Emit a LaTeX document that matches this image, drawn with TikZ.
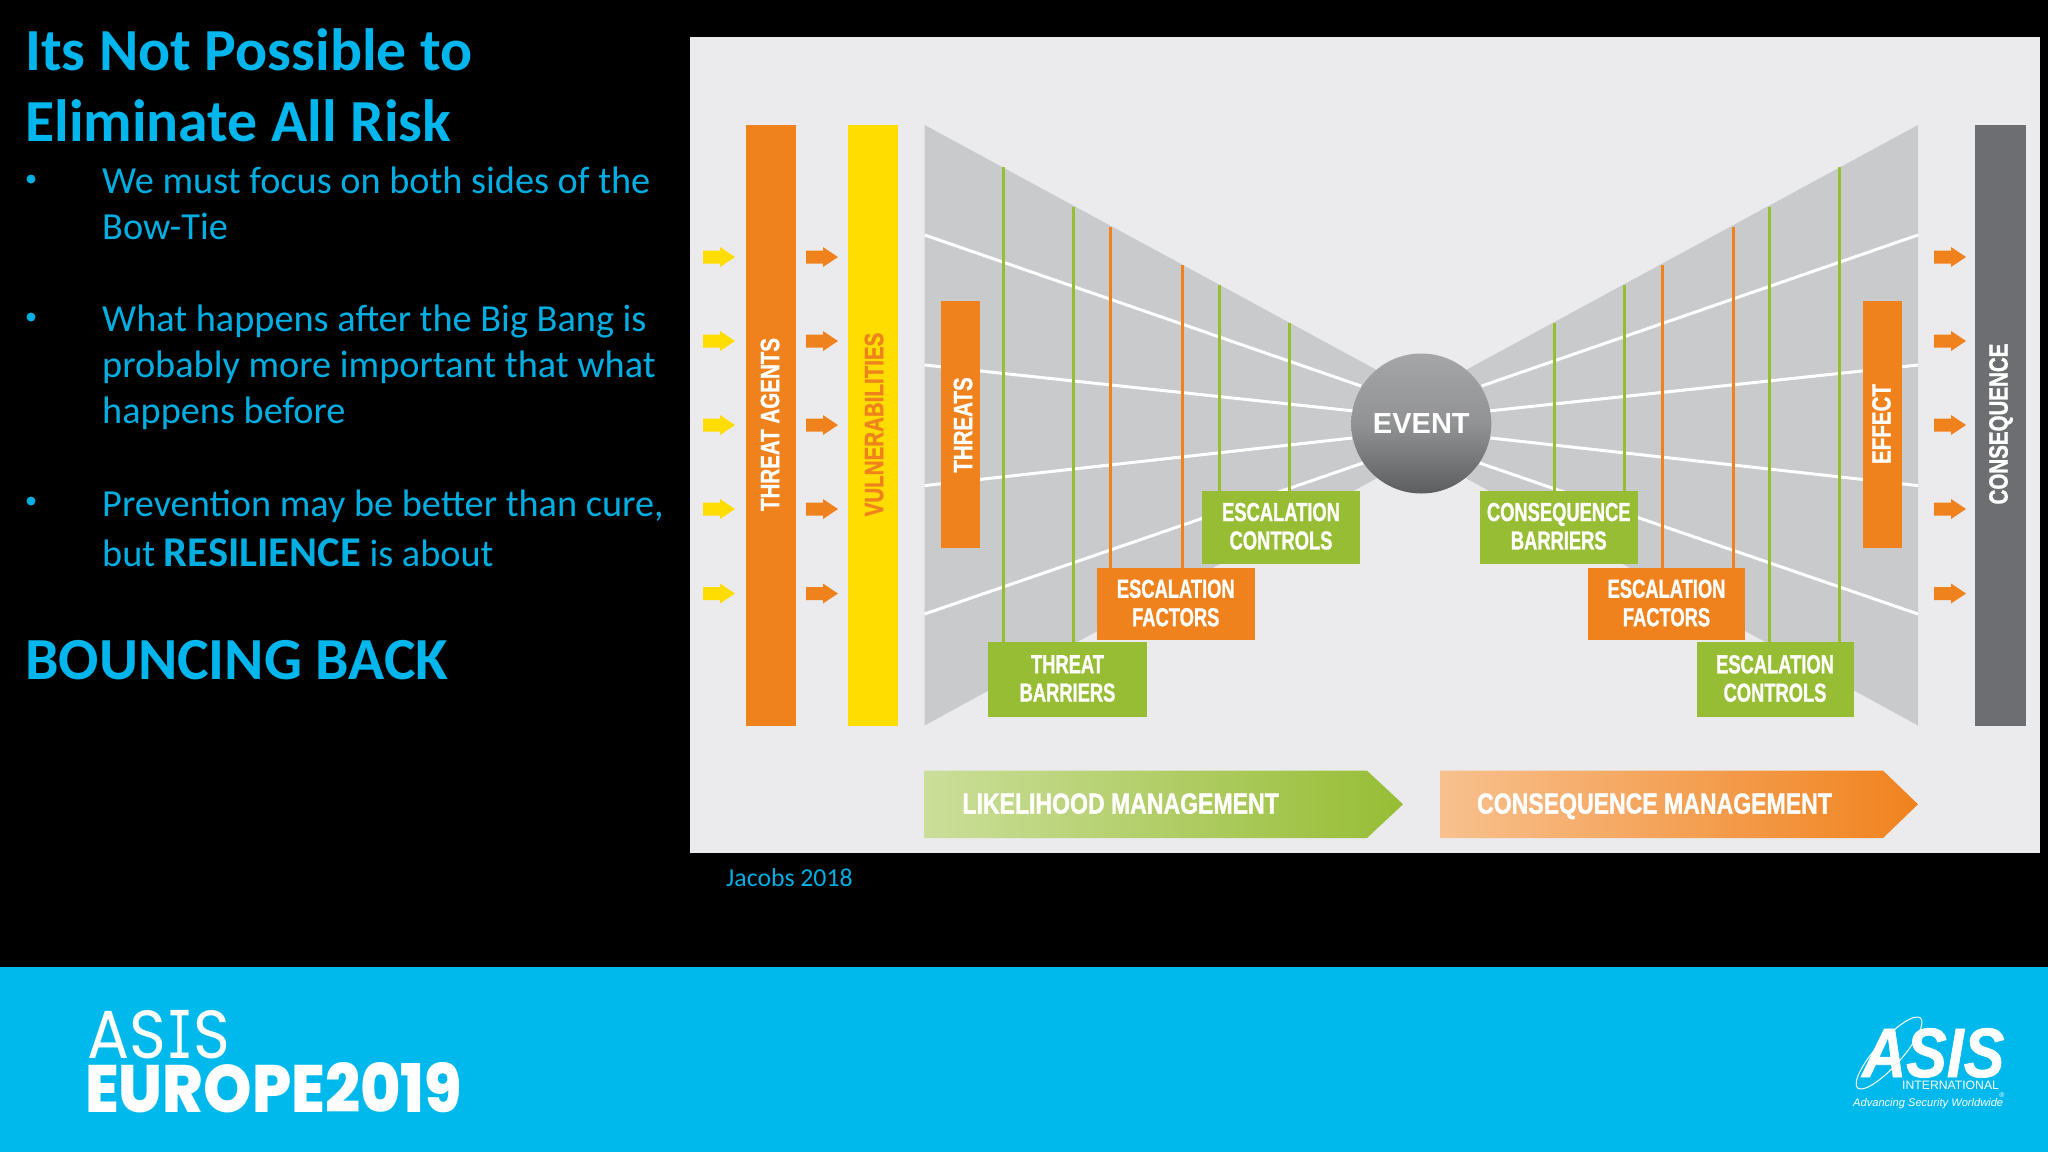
\documentclass[tikz,border=0pt]{standalone}
\usepackage{fontspec}
\setmainfont{Carlito}
\newfontfamily\cond{Liberation Sans Bold}[FakeStretch=0.705,FakeBold=1]
\newfontfamily\condv{Liberation Sans Bold}[FakeStretch=0.775,FakeBold=1]
\newfontfamily\condm{Liberation Sans Bold}[FakeStretch=0.795,FakeBold=1.2]
\newfontfamily\wide{Liberation Sans}
\newfontfamily\logoital{Liberation Sans Bold Italic}[FakeStretch=0.87,FakeBold=1]
\newfontfamily\logolight{Poppins}[FakeStretch=0.92]
\newfontfamily\logoslab{DejaVu Sans Mono}[FakeStretch=0.68]
\newfontfamily\logoheavy{Poppins ExtraBold}[FakeStretch=0.92]
\usetikzlibrary{shapes.geometric}
\definecolor{cy}{HTML}{00B6EC}
\definecolor{cybody}{HTML}{00AEE2}
\definecolor{band}{HTML}{00B9EC}
\definecolor{panel}{HTML}{EBEBED}
\definecolor{wedge}{HTML}{C9CACC}
\definecolor{grn}{HTML}{97BD35}
\definecolor{org}{HTML}{F0821E}
\definecolor{yel}{HTML}{FFDD00}
\definecolor{gbar}{HTML}{6D6E71}
\newcommand{\fs}[1]{\fontsize{#1}{#1}\selectfont}
\tikzset{
  title/.style={anchor=base west,inner sep=0pt,text=cy,font=\fs{59.7}\bfseries},
  body/.style={anchor=base west,inner sep=0pt,text=cybody,font=\fs{38.3}},
  bul/.style={anchor=center,inner sep=0pt,circle,fill=cybody,minimum size=9pt},
  vtext/.style={rotate=90,anchor=center,inner sep=0pt,font=\condv\fs{#1}},
  wline/.style={white,line width=3pt},
  gline/.style={grn,line width=3pt},
  oline/.style={org,line width=3pt},
  mtext/.style={anchor=base,inner sep=0pt,text=white,font=\condm\fs{29}}
}
\newcommand{\lblbox}[7]{% name,x0,y0,x1,y1,colour,text
  \path[fill=#6] (#2,#3) rectangle (#4,#5);
  \node[inner sep=0pt,text=white,align=center,font=\cond\fontsize{26}{28.4}\selectfont] (#1) at ({(#2+#4)/2},{(#3+#5)/2-1}) {#7};
}
\newcommand{\arr}[3]{% x, y, colour
  \fill[#3] (#1,#2-6.5) -- ++(17,0) -- ++(0,-3.5) -- ++(15,10) -- ++(-15,10) -- ++(0,-3.5) -- ++(-17,0) -- cycle;
}
\begin{document}
\begin{tikzpicture}[x=1pt,y=-1pt]
\useasboundingbox (0,0) rectangle (2048,1152);
\fill[black] (0,0) rectangle (2048,1152);
\fill[band] (0,966.5) rectangle (2048,1152);
\fill[panel] (689.5,36.5) rectangle (2040,853);

% left text
\node[title] (t1) at (25,70) {Its Not Possible to};
\node[title] (t2) at (25,141) {Eliminate All Risk};
\node[bul] (b1) at (31,179) {};
\node[body] (l1) at (102,193.5) {We must focus on both sides of the};
\node[body] (l2) at (102,239) {Bow-Tie};
\node[bul] (b2) at (31,317) {};
\node[body] (l3) at (102,331.5) {What happens after the Big Bang is};
\node[body] (l4) at (102,377.5) {probably more important that what};
\node[body] (l5) at (102,423.5) {happens before};
\node[bul] (b3) at (31,501) {};
\node[body] (l6) at (102,516) {Prevention may be better than cure,};
\node[body] (l7) at (102,566) {but {\bfseries\fs{42.5}RESILIENCE} is about};
\node[title] (t3) at (25,679) {BOUNCING BACK};
\node[anchor=base west,inner sep=0pt,text=cybody,font=\fs{25.8}] (jac) at (726,886) {Jacobs 2018};

% wedges
\fill[wedge] (924.6,125) -- (1421,394) -- (1421,454) -- (924.6,725.5) -- cycle;
\fill[wedge] (1918,125) -- (1421.6,394) -- (1421.6,454) -- (1918,725.5) -- cycle;

\coordinate (ec) at (1421.3,423.5);
\foreach \a/\b/\c/\d in {924.6/235/1361/386, 924.6/365/1354/411, 924.6/485.6/1352/438, 924.6/614/1363/463}{
  \draw[wline] (\a,\b) -- (\c,\d);
  \draw[wline] (2842.6-\a,\b) -- (2842.6-\c,\d);
}

% side bars
\fill[org] (745.6,125) rectangle (796,725.5);
\fill[yel] (848,125) rectangle (898,725.5);
\fill[gbar] (1975,125) rectangle (2025.5,725.5);
\fill[org] (941,300.5) rectangle (980,548);
\fill[org] (1862.5,300.5) rectangle (1902,548);
\node[vtext=26.5,text=white] (ta) at (770,424.5) {THREAT AGENTS};
\node[vtext=26.5,text=org] (vu) at (874,424.5) {VULNERABILITIES};
\node[vtext=26.5,text=white] (th) at (963,425) {THREATS};
\node[vtext=26.5,text=white] (ef) at (1881.5,424) {EFFECT};
\node[vtext=26.5,text=white] (co) at (2001,424) {CONSEQUENCE};

% small arrows
\foreach \y in {257,341,425,509,593.5}{
  \arr{703}{\y}{yel}
  \arr{806}{\y}{org}
  \arr{1934}{\y}{org}
}

% verticals (drawn to the box tops)
\coordinate (v1) at (1003,167);  \coordinate (v2) at (1073,207);
\coordinate (v3) at (1110,227);  \coordinate (v4) at (1182,265);
\coordinate (v5) at (1219,285);  \coordinate (v6) at (1289,323);
\coordinate (w1) at (1839.6,167);\coordinate (w2) at (1769.6,207);
\coordinate (w3) at (1733,227);\coordinate (w4) at (1662,265);
\coordinate (w5) at (1624.5,285);\coordinate (w6) at (1554,323);
\draw[gline] (v1) -- (1003,642);
\draw[gline] (v2) -- (1073,642);
\draw[oline] (v3) -- (1110,568);
\draw[oline] (v4) -- (1182,568);
\draw[gline] (v5) -- (1219,490.5);
\draw[gline] (v6) -- (1289,490.5);
\draw[gline] (w1) -- (1839.6,642);
\draw[gline] (w2) -- (1769.6,642);
\draw[oline] (w3) -- (1733,568);
\draw[oline] (w4) -- (1662,568);
\draw[gline] (w5) -- (1624.5,490.5);
\draw[gline] (w6) -- (1554,490.5);

% label boxes
\lblbox{tb}{988}{642}{1147}{717}{grn}{THREAT\\BARRIERS}
\lblbox{ef1}{1096.5}{568}{1255}{640}{org}{ESCALATION\\FACTORS}
\lblbox{ec1}{1202}{490.5}{1360}{564}{grn}{ESCALATION\\CONTROLS}
\lblbox{cb}{1479.5}{490.5}{1638}{564}{grn}{CONSEQUENCE\\BARRIERS}
\lblbox{ef2}{1588}{568}{1745}{640}{org}{ESCALATION\\FACTORS}
\lblbox{ec2}{1696.5}{642}{1853.5}{717}{grn}{ESCALATION\\CONTROLS}

% event
\shade[top color=gbar!55!white!85!gbar,bottom color=gbar!85!black,middle color=gbar!75!white] (ec) circle (70);
\node[inner sep=0pt,text=white,font=\wide\bfseries\fs{29}] (ev) at (ec) {EVENT};

% management arrows
\shade[left color=grn!50!white,right color=grn] (924.6,770.6) -- (1367,770.6) -- (1403,804.3) -- (1367,838) -- (924.6,838) -- cycle;
\shade[left color=org!50!white,right color=org] (1440,770.6) -- (1883,770.6) -- (1918,804.3) -- (1883,838) -- (1440,838) -- cycle;
\node[mtext] (lm) at (1120.6,813.6) {LIKELIHOOD MANAGEMENT};
\node[mtext] (cm) at (1654.5,813.6) {CONSEQUENCE MANAGEMENT};

% footer logos
\node[anchor=base west,inner sep=0pt,text=white,font=\logolight\fs{68}] (as) at (87,1058) {AS{\logoslab\fs{66}I}S};
\node[anchor=base west,inner sep=0pt,text=white,font=\logoheavy\fs{67}] (eu) at (85,1112) {EUROPE2019};

\draw[white,line width=1pt,rotate around={48:(1889,1053)}] (1889,1053) ellipse (47 and 13);
\node[anchor=base west,inner sep=0pt,text=white,font=\logoital\fs{70}] (as2) at (1862,1077) {ASIS};
\node[anchor=base west,inner sep=0pt,text=white,font=\wide\fs{12.2}] (int) at (1902,1089) {INTERNATIONAL};
\node[anchor=base west,inner sep=0pt,text=white,font=\wide\itshape\fs{11.1}] (tag) at (1853,1106) {Advancing Security Worldwide};
\node[anchor=center,inner sep=0pt,text=white,font=\wide\fs{7}] (reg) at (2002,1095) {\textregistered};
\end{tikzpicture}
\end{document}
